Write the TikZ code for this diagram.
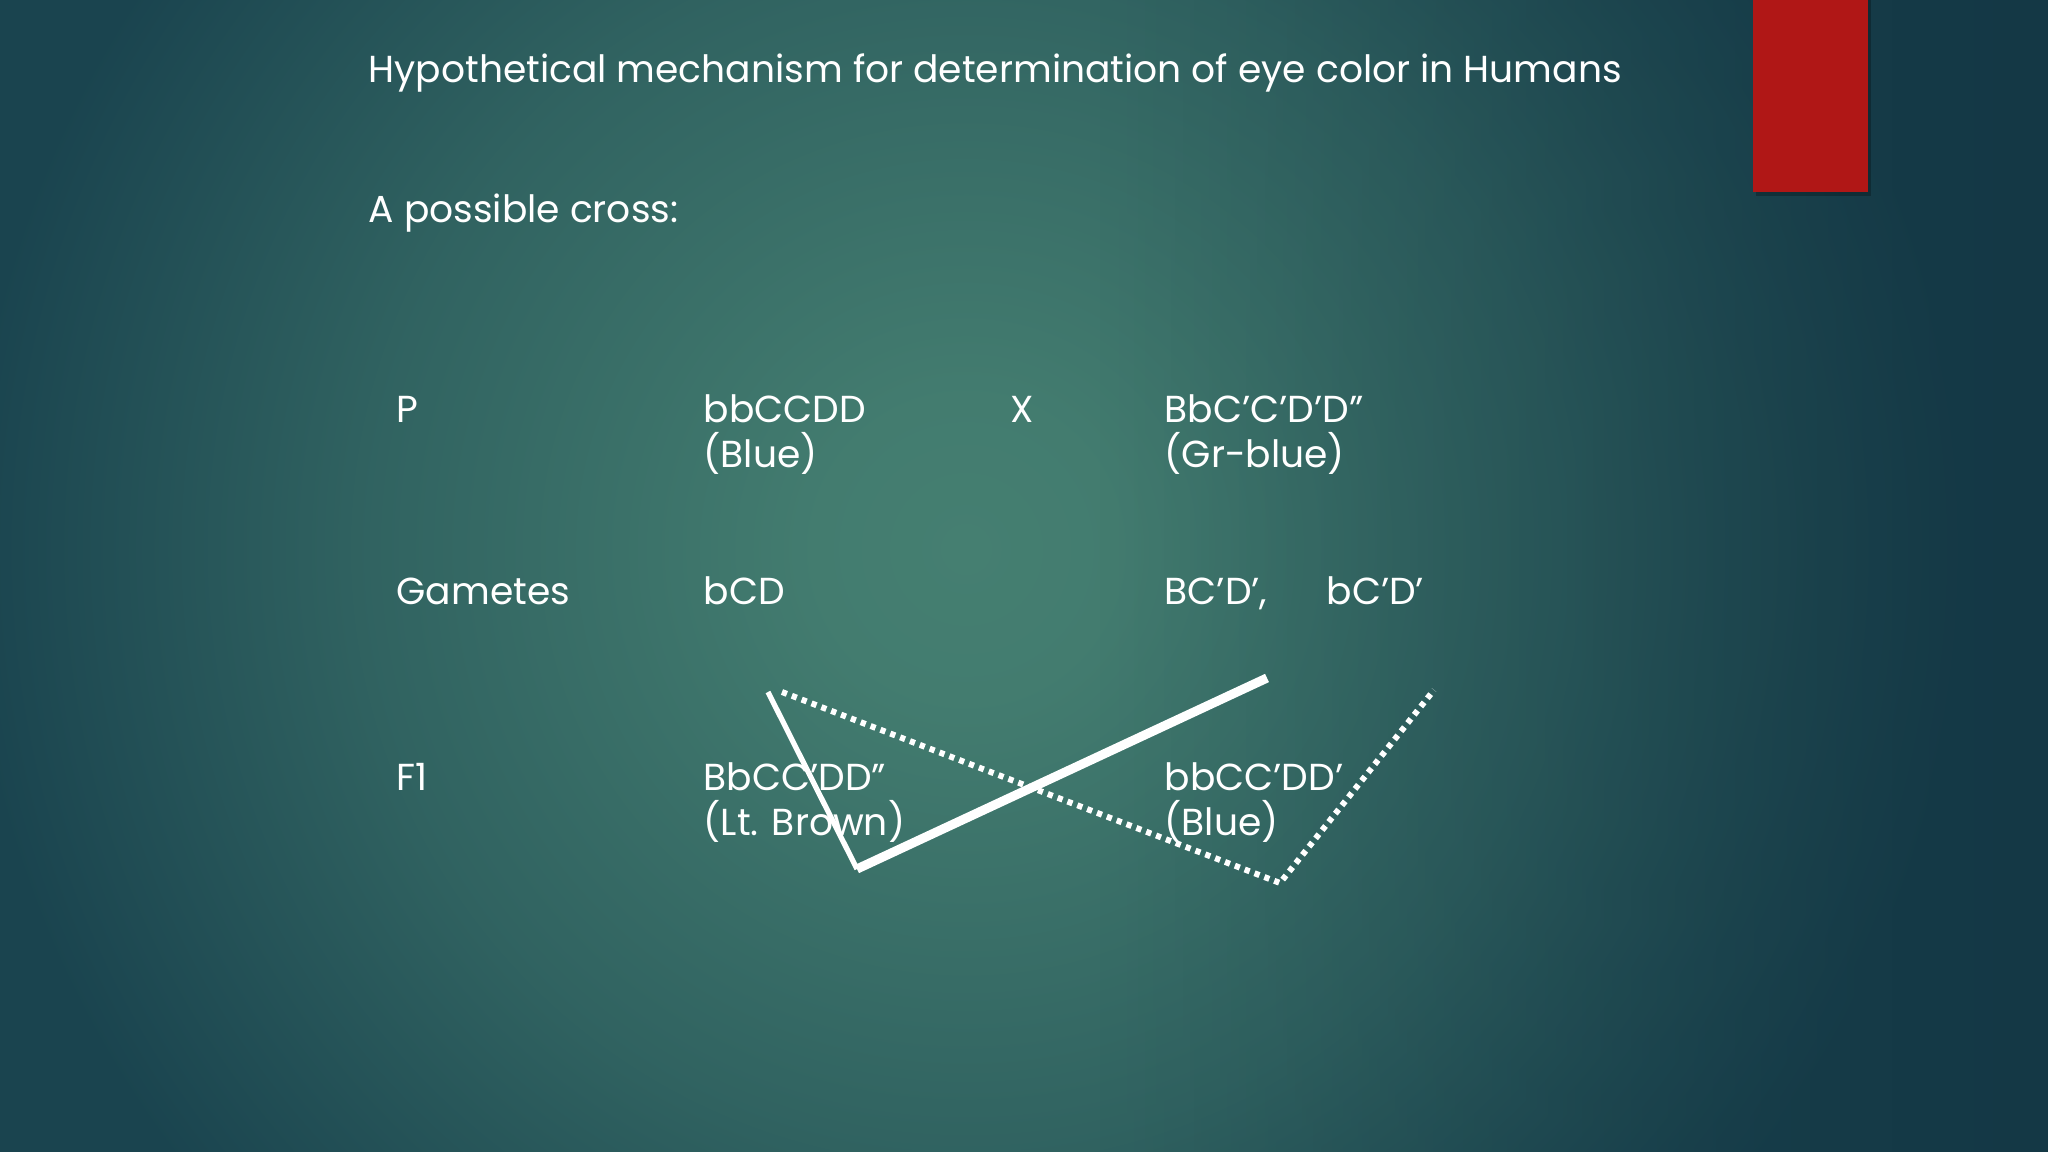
\documentclass[tikz,border=0pt]{standalone}
\usepackage{fontspec}
\setmainfont{Poppins}
\usetikzlibrary{calc,fadings}

\definecolor{bgmid}{HTML}{457F71}
\definecolor{bgedge}{HTML}{1A444F}
\definecolor{bgcorner}{HTML}{10303F}
\definecolor{tabred}{HTML}{B01716}
\pgfdeclareradialshading{slidebg}{\pgfpoint{0bp}{0bp}}{color(0bp)=(bgmid); color(3bp)=(bgmid!95!bgedge); color(12bp)=(bgmid!52!bgedge); color(20bp)=(bgedge); color(50bp)=(bgedge)}

\tikzset{
  txt/.style={anchor=base west, text=white, inner sep=0pt},
  thinline/.style={white, line width=1.5pt},
  thickline/.style={white, line width=2.6pt},
  dotline/.style={white, line width=1.7pt, dash pattern=on 1.5pt off 1.5pt}
}

\begin{document}
\begin{tikzpicture}[font=\fontsize{10.7}{13}\selectfont]
\useasboundingbox (0,0) rectangle (20.48,-11.52);
% background
\begin{scope}
  \clip (0,0) rectangle (20.48,-11.52);
  \fill[bgedge] (0,0) rectangle (20.48,-11.52);
  \shade[shading=slidebg] (9.66,-5.49) circle (12.5);
  \fill[bgcorner, path fading=west, fill opacity=.6] (11,0) rectangle (20.48,-11.52);
\end{scope}
\fill[black, opacity=.25] (17.56,0) rectangle (18.71,-1.96);
\fill[tabred] (17.53,0) rectangle (18.68,-1.92);

% headings
\node[txt] (title) at (3.68,-0.83) {Hypothetical mechanism for determination of eye color in Humans};
\node[txt] (cross) at (3.68,-2.23) {A possible cross:};

% rows of the cross
\foreach \row/\ypos in {P/4.22, Gametes/6.05, F1/7.90} {
  \node[txt] (lab-\row) at (3.96,-\ypos) {\row};
}
\node[txt] (p1) at (7.03,-4.22) {bbCCDD};
\node[txt] (p1c) at (7.03,-4.68) {(Blue)};
\node[txt] (cx) at (10.10,-4.22) {X};
\node[txt] (p2) at (11.64,-4.22) {BbC’C’D’D”};
\node[txt] (p2c) at (11.64,-4.68) {(Gr-blue)};

\node[txt] (g1) at (7.03,-6.05) {bCD};
\node[txt] (g2) at (11.64,-6.05) {BC’D’,};
\node[txt] (g3) at (13.26,-6.05) {bC’D’};

\node[txt] (f1) at (7.03,-7.90) {BbCC’DD”};
\node[txt] (f1c) at (7.03,-8.36) {(Lt. Brown)};
\node[txt] (f2) at (11.64,-7.90) {bbCC’DD’};
\node[txt] (f2c) at (11.64,-8.36) {(Blue)};

% connectors
\coordinate (s1) at (7.68,-6.92);
\coordinate (s2) at (8.57,-8.69);
\coordinate (s3) at (12.67,-6.78);
\coordinate (d1) at (7.82,-6.92);
\coordinate (d2) at (12.80,-8.83);
\coordinate (d3) at (14.34,-6.90);
\draw[thinline] (s1) -- (s2);
\draw[thickline] (s2) -- (s3);
\draw[dotline] (d1) -- (d2) -- (d3);
\end{tikzpicture}
\end{document}
